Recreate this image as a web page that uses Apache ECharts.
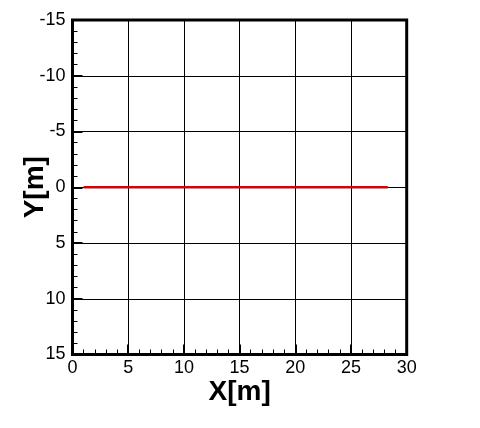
<!DOCTYPE html>
<html>
<head>
<meta charset="utf-8">
<script src="https://cdn.jsdelivr.net/npm/echarts@6/dist/echarts.min.js"></script>
<style>
html,body{margin:0;padding:0;background:#fff;}
#chart{width:480px;height:428px;}
</style>
</head>
<body>
<div id="chart"></div>
<script>
// Data
const xValues = [1, 28.3];
const yValues = [0, 0];
const xTitle = 'X[m]';
const yTitle = 'Y[m]';
const xRange = [0, 30];
const yRange = [-15, 15];

const chart = echarts.init(document.getElementById('chart'), null, {renderer: 'canvas'});
const font = 'Liberation Sans, Arial, sans-serif';
const lineData = xValues.map((x, i) => [x, yValues[i]]);

chart.setOption({
  animation: false,
  backgroundColor: '#fff',
  grid: {
    left: 72.5, right: 73.3, top: 20, bottom: 73.5,
    containLabel: false, outerBoundsMode: 'none',
    show: true, borderColor: '#000', borderWidth: 3, backgroundColor: 'transparent', z: 5
  },
  xAxis: {
    type: 'value', min: xRange[0], max: xRange[1], interval: 5,
    name: xTitle, nameLocation: 'middle', nameGap: 24, nameMoveOverlap: false,
    nameTextStyle: {fontFamily: font, fontSize: 28, fontWeight: 'bold', color: '#000'},
    axisLine: {show: false, onZero: false},
    axisTick: {show: true, inside: true, length: 10, lineStyle: {color: '#000', width: 2}},
    minorTick: {show: true, splitNumber: 5, length: 5, lineStyle: {color: '#000', width: 1}},
    splitLine: {show: true, lineStyle: {color: '#000', width: 1}},
    axisLabel: {fontFamily: font, fontSize: 18, color: '#000', margin: 5}
  },
  yAxis: {
    type: 'value', min: yRange[0], max: yRange[1], interval: 5, inverse: true,
    name: yTitle, nameLocation: 'middle', nameGap: 23.5, nameMoveOverlap: false,
    nameTextStyle: {fontFamily: font, fontSize: 28, fontWeight: 'bold', color: '#000'},
    axisLine: {show: false, onZero: false},
    axisTick: {show: true, inside: true, length: 10, lineStyle: {color: '#000', width: 2}},
    minorTick: {show: true, splitNumber: 5, length: 5, lineStyle: {color: '#000', width: 1}},
    splitLine: {show: true, lineStyle: {color: '#000', width: 1}},
    axisLabel: {fontFamily: font, fontSize: 18, color: '#000', margin: 7}
  },
  series: [{
    type: 'line',
    data: lineData,
    showSymbol: false,
    symbol: 'none',
    lineStyle: {color: '#dd0000', width: 2.5},
    z: 3
  }]
});
</script>
</body>
</html>
